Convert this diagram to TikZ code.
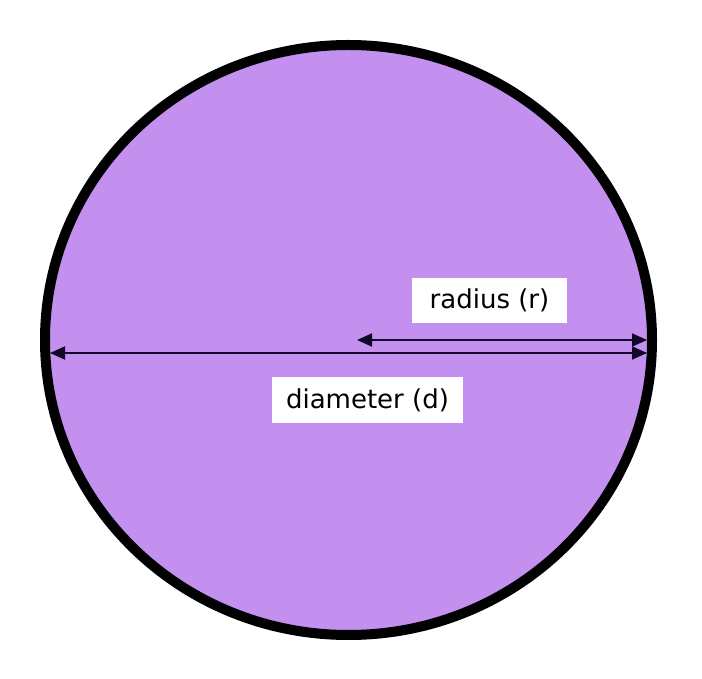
\documentclass[tikz,border=0pt]{standalone}
\usepackage{fontspec}
\setmainfont{DejaVu Sans}
\usetikzlibrary{arrows.meta}
\definecolor{circfill}{RGB}{196,144,240}
\definecolor{lineblk}{RGB}{16,8,40}
\begin{document}
\begin{tikzpicture}[x=1pt,y=1pt,
  dimline/.style={draw=lineblk,line width=2pt,{Triangle[length=15pt,width=13pt]}-{Triangle[length=15pt,width=13pt]}},
  labelbox/.style={fill=white,inner sep=0pt,font=\fontsize{26}{30}\selectfont,text=black}]
\useasboundingbox[fill=white] (0,0) rectangle (702,678);
\draw[fill=circfill,line width=10pt] (348.5,338) ellipse [x radius=303.5,y radius=295];
\coordinate (dl) at (50,325);
\coordinate (dr) at (647,325);
\coordinate (rl) at (357,338);
\coordinate (rr) at (647,338);
\draw[dimline] (dl) -- (dr);
\draw[dimline] (rl) -- (rr);
\node[labelbox,minimum width=155pt,minimum height=45pt] (rlab) at (489.5,377.5) {radius (r)};
\node[labelbox,minimum width=191pt,minimum height=46pt] (dlab) at (367.5,278) {diameter (d)};
\end{tikzpicture}
\end{document}
